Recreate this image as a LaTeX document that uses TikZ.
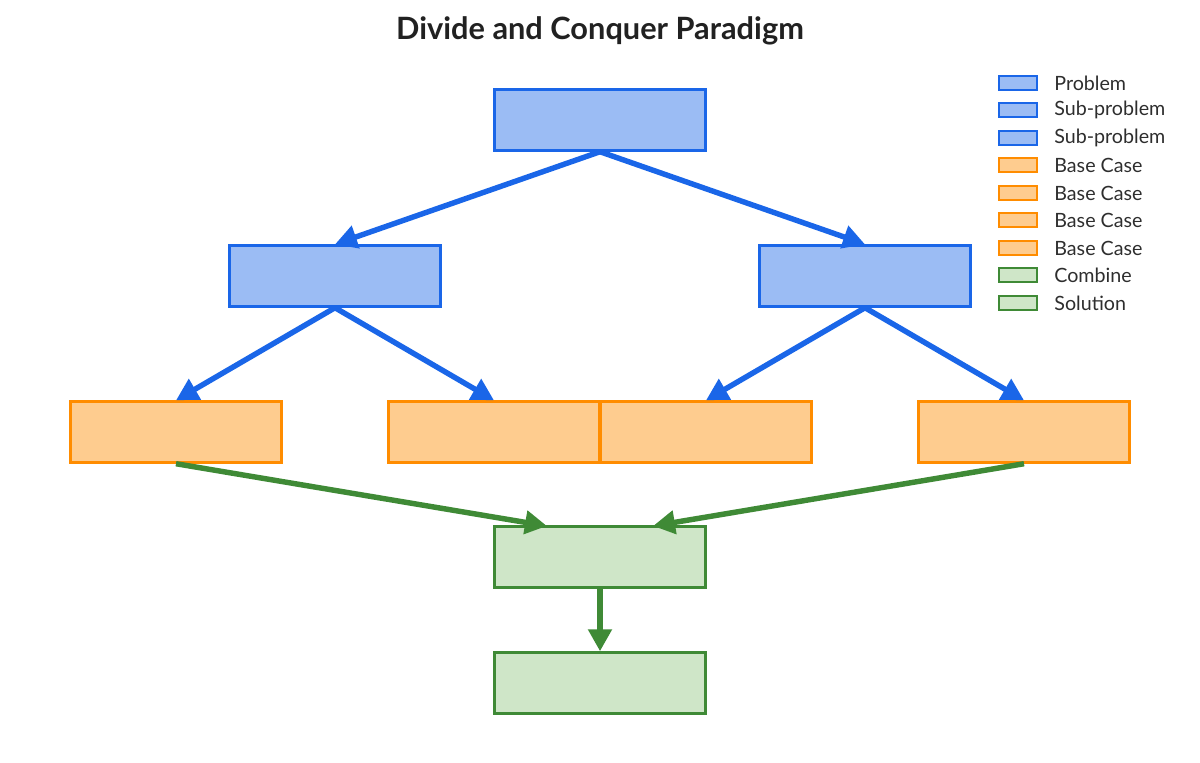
\documentclass[tikz,border=0pt]{standalone}
\usepackage{fontspec}
\setmainfont{Lato}
\usetikzlibrary{arrows.meta}

\definecolor{probedge}{HTML}{1A66E8}
\definecolor{probfill}{HTML}{9BBCF4}
\definecolor{baseedge}{HTML}{FF8C00}
\definecolor{basefill}{HTML}{FECC8F}
\definecolor{combedge}{HTML}{3F8A36}
\definecolor{combfill}{HTML}{CFE6C8}

\begin{document}
\begin{tikzpicture}[x=0.02cm,y=-0.02cm,
    box/.style={rectangle,draw,line width=1.4pt,minimum width=4.22cm,
      minimum height=1.22cm,inner sep=0pt},
    prob/.style={box,draw=probedge,fill=probfill},
    base/.style={box,draw=baseedge,fill=basefill},
    comb/.style={box,draw=combedge,fill=combfill},
    patch/.style={rectangle,draw,line width=1.3pt,minimum width=0.76cm,
      minimum height=0.27cm,inner sep=0pt},
    key/.style={anchor=west,font=\fontsize{11.2}{13}\selectfont,text=black!82,
      inner sep=0pt},
    link/.style={line width=3.1pt,-{Triangle[length=12.5pt,width=13pt]}}]
  \useasboundingbox (0,0) rectangle (1200,763);
  \node[font=\fontsize{17.5}{21}\selectfont\bfseries,text=black!87] (title)
    at (600,31) {Divide and Conquer Paradigm};
  % divide: problem and its two halves
  \node[prob] (problem) at (600,120) {};
  \node[prob] (subl) at (335,276) {};
  \node[prob] (subr) at (865,276) {};
  % base cases (the middle two touch)
  \node[base] (base1) at (176,432) {};
  \node[base] (base2) at (494,432) {};
  \node[base] (base3) at (706,432) {};
  \node[base] (base4) at (1024,432) {};
  % combine step and result
  \node[comb] (combine) at (600,557) {};
  \node[comb] (solution) at (600,683) {};
  \coordinate (inl) at (547,526);
  \coordinate (inr) at (653,526);
  \draw[link,probedge] (problem.south) -- (subl.north);
  \draw[link,probedge] (problem.south) -- (subr.north);
  \draw[link,probedge] (subl.south) -- (base1.north);
  \draw[link,probedge] (subl.south) -- (base2.north);
  \draw[link,probedge] (subr.south) -- (base3.north);
  \draw[link,probedge] (subr.south) -- (base4.north);
  \draw[link,combedge] (base1.south) -- (inl);
  \draw[link,combedge] (base4.south) -- (inr);
  \draw[link,combedge] (combine.south) -- (solution.north);
  % legend, top right
  \node[patch,draw=probedge,fill=probfill] (lp1) at (1018,83) {};
  \node[key] (lt1) at (1054,83) {Problem};
  \node[patch,draw=probedge,fill=probfill] (lp2) at (1018,110) {};
  \node[key] (lt2) at (1054,110) {Sub-problem};
  \node[patch,draw=probedge,fill=probfill] (lp3) at (1018,138) {};
  \node[key] (lt3) at (1054,138) {Sub-problem};
  \node[patch,draw=baseedge,fill=basefill] (lp4) at (1018,165) {};
  \node[key] (lt4) at (1054,165) {Base Case};
  \node[patch,draw=baseedge,fill=basefill] (lp5) at (1018,193) {};
  \node[key] (lt5) at (1054,193) {Base Case};
  \node[patch,draw=baseedge,fill=basefill] (lp6) at (1018,220) {};
  \node[key] (lt6) at (1054,220) {Base Case};
  \node[patch,draw=baseedge,fill=basefill] (lp7) at (1018,248) {};
  \node[key] (lt7) at (1054,248) {Base Case};
  \node[patch,draw=combedge,fill=combfill] (lp8) at (1018,275) {};
  \node[key] (lt8) at (1054,275) {Combine};
  \node[patch,draw=combedge,fill=combfill] (lp9) at (1018,303) {};
  \node[key] (lt9) at (1054,303) {Solution};
\end{tikzpicture}
\end{document}
